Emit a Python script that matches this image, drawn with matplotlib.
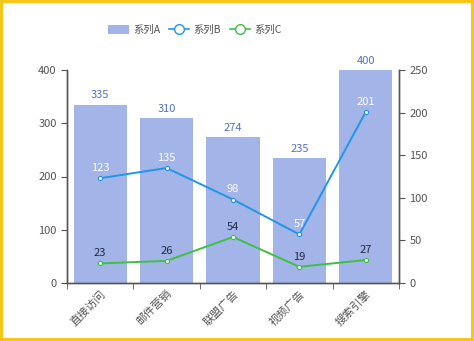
import numpy as np
import matplotlib.pyplot as plt
from matplotlib.lines import Line2D
from matplotlib.patches import Patch

plt.rcParams['font.family'] = ['Noto Sans CJK SC', 'DejaVu Sans']

categories = ['直接访问', '邮件营销', '联盟广告', '视频广告', '搜索引擎']
series_a = [335, 310, 274, 235, 400]
series_b = [123, 135, 98, 57, 201]
series_c = [23, 26, 54, 19, 27]

bar_color = '#a2b4e8'
b_color = '#2196e8'
c_color = '#3ec043'
axis_color = '#555555'

fig = plt.figure(figsize=(4.74, 3.41), dpi=100)
fig.patch.set_facecolor('white')
fig.patch.set_edgecolor('#f8c51c')
fig.patch.set_linewidth(4)

ax = fig.add_axes([67 / 474, 58 / 341, 332 / 474, 213 / 341])
ax2 = ax.twinx()

x = np.arange(len(categories))
ax.bar(x, series_a, width=0.8, color=bar_color, zorder=1)
for xi, v in zip(x, series_a):
    ax.text(xi, v + 8, str(v), ha='center', va='bottom', fontsize=8, color='#5470c6')

ax2.plot(x, series_b, color=b_color, lw=1.4, marker='o', ms=3,
         mfc='white', mec=b_color, mew=0.8, zorder=3)
ax2.plot(x, series_c, color=c_color, lw=1.4, marker='o', ms=3,
         mfc='white', mec=c_color, mew=0.8, zorder=3)
for xi, v in zip(x, series_b):
    ax2.text(xi, v + 6, str(v), ha='center', va='bottom', fontsize=8, color='white')
for xi, v in zip(x, series_c):
    ax2.text(xi, v + 6, str(v), ha='center', va='bottom', fontsize=8, color='#222a44')

ax.set_xlim(-0.5, len(categories) - 0.5)
ax.set_ylim(0, 400)
ax.set_yticks([0, 100, 200, 300, 400])
ax2.set_ylim(0, 250)
ax2.set_yticks([0, 50, 100, 150, 200, 250])

ax.set_xticks(x)
ax.set_xticklabels(categories, rotation=45, ha='right', rotation_mode='anchor', fontsize=8, color='#555555')
ax.tick_params(axis='x', length=0, pad=4)
ax.set_xticks(np.arange(len(categories) + 1) - 0.5, minor=True)
ax.tick_params(axis='x', which='minor', length=4, color=axis_color)

ax.tick_params(axis='y', labelsize=8, colors=axis_color, length=4)
ax2.tick_params(axis='y', labelsize=8, colors=axis_color, length=4)
for a in (ax, ax2):
    a.spines['top'].set_visible(False)
    for s in ('left', 'right', 'bottom'):
        a.spines[s].set_color(axis_color)
        a.spines[s].set_linewidth(1)
ax.set_zorder(0)
ax2.set_zorder(1)
ax2.patch.set_visible(False)

handles = [
    Patch(facecolor=bar_color, edgecolor='none'),
    Line2D([], [], color=b_color, lw=1.2, marker='o', ms=7, mfc='white', mec=b_color, mew=1),
    Line2D([], [], color=c_color, lw=1.2, marker='o', ms=7, mfc='white', mec=c_color, mew=1),
]
fig.legend(handles, ['系列A', '系列B', '系列C'], loc='center', bbox_to_anchor=(195 / 474, 1 - 30 / 341),
           ncol=3, frameon=False, fontsize=7.5, handlelength=2.0, handleheight=0.9,
           columnspacing=0.8, handletextpad=0.4, labelcolor='#555555')

fig.savefig('out.png', dpi=100, facecolor=fig.get_facecolor(), edgecolor=fig.get_edgecolor())
